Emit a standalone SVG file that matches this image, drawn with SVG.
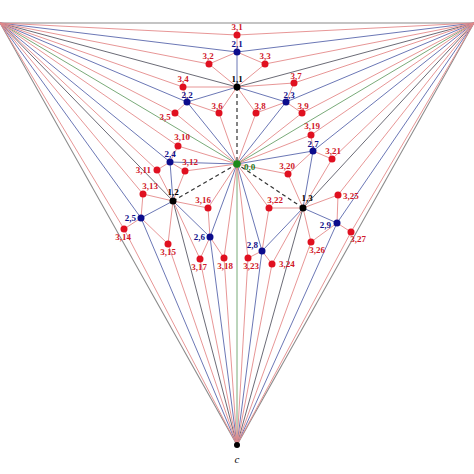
<svg xmlns="http://www.w3.org/2000/svg" width="474" height="474" viewBox="0 0 474 474">
<style>
line{stroke-width:0.9;fill:none}
.e{stroke:#8a8a8a;stroke-width:1.1}
.g{stroke:#6aa06a}
.k{stroke:#5a5a66}
.d{stroke:#333;stroke-width:1.2;stroke-dasharray:4,3}
.b{stroke:#5a68ad}
.r{stroke:#e48a8a}
.n0{fill:#1a8a1a}.n1{fill:#000}.n2{fill:#0c0c8c}.n3{fill:#e01020}
text{font-family:"Liberation Serif","DejaVu Serif",serif;font-weight:bold;font-size:9px;text-anchor:middle}
.t0{fill:#1a7a1a}.t1{fill:#000}.t2{fill:#10108a}.t3{fill:#d0182a}
</style>
<rect width="474" height="474" fill="#fff"/>
<g id="connectors">
<line class="e" x1="0" y1="23" x2="474" y2="23"/>
<line class="e" x1="0" y1="23" x2="237" y2="445"/>
<line class="e" x1="474" y1="23" x2="237" y2="445"/>
<!-- 0,0 -->
<line class="g" x1="0" y1="23" x2="237" y2="164"/>
<line class="g" x1="474" y1="23" x2="237" y2="164"/>
<line class="g" x1="237" y1="445" x2="237" y2="164"/>
<!-- level 1 -->
<line class="k" x1="0" y1="23" x2="237" y2="87"/>
<line class="k" x1="474" y1="23" x2="237" y2="87"/>
<line class="d" x1="237" y1="87" x2="237" y2="164"/>
<line class="k" x1="0" y1="23" x2="173" y2="201"/>
<line class="k" x1="237" y1="445" x2="173" y2="201"/>
<line class="d" x1="173" y1="201" x2="237" y2="164"/>
<line class="k" x1="474" y1="23" x2="303" y2="208"/>
<line class="k" x1="237" y1="445" x2="303" y2="208"/>
<line class="d" x1="303" y1="208" x2="237" y2="164"/>
<!-- level 2 -->
<line class="b" x1="0" y1="23" x2="237" y2="52"/>
<line class="b" x1="474" y1="23" x2="237" y2="52"/>
<line class="b" x1="237" y1="87" x2="237" y2="52"/>
<line class="b" x1="0" y1="23" x2="187" y2="102"/>
<line class="b" x1="237" y1="164" x2="187" y2="102"/>
<line class="b" x1="237" y1="87" x2="187" y2="102"/>
<line class="b" x1="474" y1="23" x2="286" y2="102"/>
<line class="b" x1="237" y1="164" x2="286" y2="102"/>
<line class="b" x1="237" y1="87" x2="286" y2="102"/>
<line class="b" x1="0" y1="23" x2="170" y2="162"/>
<line class="b" x1="237" y1="164" x2="170" y2="162"/>
<line class="b" x1="173" y1="201" x2="170" y2="162"/>
<line class="b" x1="0" y1="23" x2="141" y2="218"/>
<line class="b" x1="237" y1="445" x2="141" y2="218"/>
<line class="b" x1="173" y1="201" x2="141" y2="218"/>
<line class="b" x1="237" y1="445" x2="210" y2="237"/>
<line class="b" x1="237" y1="164" x2="210" y2="237"/>
<line class="b" x1="173" y1="201" x2="210" y2="237"/>
<line class="b" x1="474" y1="23" x2="313" y2="151"/>
<line class="b" x1="237" y1="164" x2="313" y2="151"/>
<line class="b" x1="303" y1="208" x2="313" y2="151"/>
<line class="b" x1="237" y1="445" x2="262" y2="251"/>
<line class="b" x1="237" y1="164" x2="262" y2="251"/>
<line class="b" x1="303" y1="208" x2="262" y2="251"/>
<line class="b" x1="474" y1="23" x2="337" y2="223"/>
<line class="b" x1="237" y1="445" x2="337" y2="223"/>
<line class="b" x1="303" y1="208" x2="337" y2="223"/>
<!-- level 3 -->
<line class="r" x1="0" y1="23" x2="237" y2="35"/>
<line class="r" x1="474" y1="23" x2="237" y2="35"/>
<line class="r" x1="237" y1="52" x2="237" y2="35"/>
<line class="r" x1="0" y1="23" x2="209" y2="64"/>
<line class="r" x1="237" y1="87" x2="209" y2="64"/>
<line class="r" x1="237" y1="52" x2="209" y2="64"/>
<line class="r" x1="474" y1="23" x2="265" y2="64"/>
<line class="r" x1="237" y1="87" x2="265" y2="64"/>
<line class="r" x1="237" y1="52" x2="265" y2="64"/>
<line class="r" x1="0" y1="23" x2="183" y2="87"/>
<line class="r" x1="237" y1="87" x2="183" y2="87"/>
<line class="r" x1="187" y1="102" x2="183" y2="87"/>
<line class="r" x1="0" y1="23" x2="175" y2="113"/>
<line class="r" x1="237" y1="164" x2="175" y2="113"/>
<line class="r" x1="187" y1="102" x2="175" y2="113"/>
<line class="r" x1="237" y1="164" x2="219" y2="113"/>
<line class="r" x1="237" y1="87" x2="219" y2="113"/>
<line class="r" x1="187" y1="102" x2="219" y2="113"/>
<line class="r" x1="474" y1="23" x2="294" y2="83"/>
<line class="r" x1="237" y1="87" x2="294" y2="83"/>
<line class="r" x1="286" y1="102" x2="294" y2="83"/>
<line class="r" x1="237" y1="164" x2="256" y2="113"/>
<line class="r" x1="237" y1="87" x2="256" y2="113"/>
<line class="r" x1="286" y1="102" x2="256" y2="113"/>
<line class="r" x1="474" y1="23" x2="302" y2="113"/>
<line class="r" x1="237" y1="164" x2="302" y2="113"/>
<line class="r" x1="286" y1="102" x2="302" y2="113"/>
<line class="r" x1="0" y1="23" x2="178" y2="146"/>
<line class="r" x1="237" y1="164" x2="178" y2="146"/>
<line class="r" x1="170" y1="162" x2="178" y2="146"/>
<line class="r" x1="0" y1="23" x2="157" y2="170"/>
<line class="r" x1="173" y1="201" x2="157" y2="170"/>
<line class="r" x1="170" y1="162" x2="157" y2="170"/>
<line class="r" x1="237" y1="164" x2="185" y2="171"/>
<line class="r" x1="173" y1="201" x2="185" y2="171"/>
<line class="r" x1="170" y1="162" x2="185" y2="171"/>
<line class="r" x1="0" y1="23" x2="143" y2="194"/>
<line class="r" x1="173" y1="201" x2="143" y2="194"/>
<line class="r" x1="141" y1="218" x2="143" y2="194"/>
<line class="r" x1="0" y1="23" x2="124" y2="229"/>
<line class="r" x1="237" y1="445" x2="124" y2="229"/>
<line class="r" x1="141" y1="218" x2="124" y2="229"/>
<line class="r" x1="237" y1="445" x2="168" y2="244"/>
<line class="r" x1="173" y1="201" x2="168" y2="244"/>
<line class="r" x1="141" y1="218" x2="168" y2="244"/>
<line class="r" x1="237" y1="164" x2="208" y2="208"/>
<line class="r" x1="173" y1="201" x2="208" y2="208"/>
<line class="r" x1="210" y1="237" x2="208" y2="208"/>
<line class="r" x1="237" y1="445" x2="200" y2="259"/>
<line class="r" x1="173" y1="201" x2="200" y2="259"/>
<line class="r" x1="210" y1="237" x2="200" y2="259"/>
<line class="r" x1="237" y1="445" x2="224" y2="258"/>
<line class="r" x1="237" y1="164" x2="224" y2="258"/>
<line class="r" x1="210" y1="237" x2="224" y2="258"/>
<line class="r" x1="474" y1="23" x2="311" y2="135"/>
<line class="r" x1="237" y1="164" x2="311" y2="135"/>
<line class="r" x1="313" y1="151" x2="311" y2="135"/>
<line class="r" x1="237" y1="164" x2="288" y2="174"/>
<line class="r" x1="303" y1="208" x2="288" y2="174"/>
<line class="r" x1="313" y1="151" x2="288" y2="174"/>
<line class="r" x1="474" y1="23" x2="332" y2="159"/>
<line class="r" x1="303" y1="208" x2="332" y2="159"/>
<line class="r" x1="313" y1="151" x2="332" y2="159"/>
<line class="r" x1="237" y1="164" x2="269" y2="208"/>
<line class="r" x1="303" y1="208" x2="269" y2="208"/>
<line class="r" x1="262" y1="251" x2="269" y2="208"/>
<line class="r" x1="237" y1="445" x2="248" y2="258"/>
<line class="r" x1="237" y1="164" x2="248" y2="258"/>
<line class="r" x1="262" y1="251" x2="248" y2="258"/>
<line class="r" x1="237" y1="445" x2="272" y2="264"/>
<line class="r" x1="303" y1="208" x2="272" y2="264"/>
<line class="r" x1="262" y1="251" x2="272" y2="264"/>
<line class="r" x1="474" y1="23" x2="338" y2="195"/>
<line class="r" x1="303" y1="208" x2="338" y2="195"/>
<line class="r" x1="337" y1="223" x2="338" y2="195"/>
<line class="r" x1="237" y1="445" x2="311" y2="242"/>
<line class="r" x1="303" y1="208" x2="311" y2="242"/>
<line class="r" x1="337" y1="223" x2="311" y2="242"/>
<line class="r" x1="474" y1="23" x2="351" y2="232"/>
<line class="r" x1="237" y1="445" x2="351" y2="232"/>
<line class="r" x1="337" y1="223" x2="351" y2="232"/>
</g>
<g id="c"><circle class="n1" cx="237" cy="445" r="3"/><text x="237" y="463" style="font-style:italic;font-weight:normal;font-size:11px">c</text></g>
<g id="n0-0"><circle class="n0" cx="237" cy="164" r="3.8"/><text class="t0" x="244" y="170" style="text-anchor:start">0,0</text></g>
<g id="n1-1"><circle class="n1" cx="237" cy="87" r="3.5"/><text class="t1" x="237" y="82">1,1</text></g>
<g id="n1-2"><circle class="n1" cx="173" cy="201" r="3.5"/><text class="t1" x="173" y="195">1,2</text></g>
<g id="n1-3"><circle class="n1" cx="303" cy="208" r="3.5"/><text class="t1" x="307" y="201">1,3</text></g>
<g id="n2-1"><circle class="n2" cx="237" cy="52" r="3.5"/><text class="t2" x="237" y="47">2,1</text></g>
<g id="n2-2"><circle class="n2" cx="187" cy="102" r="3.5"/><text class="t2" x="187" y="98">2,2</text></g>
<g id="n2-3"><circle class="n2" cx="286" cy="102" r="3.5"/><text class="t2" x="289" y="98">2,3</text></g>
<g id="n2-4"><circle class="n2" cx="170" cy="162" r="3.5"/><text class="t2" x="170" y="157">2,4</text></g>
<g id="n2-5"><circle class="n2" cx="141" cy="218" r="3.5"/><text class="t2" x="136" y="221" style="text-anchor:end">2,5</text></g>
<g id="n2-6"><circle class="n2" cx="210" cy="237" r="3.5"/><text class="t2" x="205" y="240" style="text-anchor:end">2,6</text></g>
<g id="n2-7"><circle class="n2" cx="313" cy="151" r="3.5"/><text class="t2" x="313" y="147">2,7</text></g>
<g id="n2-8"><circle class="n2" cx="262" cy="251" r="3.5"/><text class="t2" x="258" y="248" style="text-anchor:end">2,8</text></g>
<g id="n2-9"><circle class="n2" cx="337" cy="223" r="3.5"/><text class="t2" x="331" y="228" style="text-anchor:end">2,9</text></g>
<g id="n3-1"><circle class="n3" cx="237" cy="35" r="3.5"/><text class="t3" x="237" y="30">3,1</text></g>
<g id="n3-2"><circle class="n3" cx="209" cy="64" r="3.5"/><text class="t3" x="208" y="59">3,2</text></g>
<g id="n3-3"><circle class="n3" cx="265" cy="64" r="3.5"/><text class="t3" x="265" y="59">3,3</text></g>
<g id="n3-4"><circle class="n3" cx="183" cy="87" r="3.5"/><text class="t3" x="183" y="82">3,4</text></g>
<g id="n3-5"><circle class="n3" cx="175" cy="113" r="3.5"/><text class="t3" x="165" y="120">3,5</text></g>
<g id="n3-6"><circle class="n3" cx="219" cy="113" r="3.5"/><text class="t3" x="217" y="109">3,6</text></g>
<g id="n3-7"><circle class="n3" cx="294" cy="83" r="3.5"/><text class="t3" x="296" y="79">3,7</text></g>
<g id="n3-8"><circle class="n3" cx="256" cy="113" r="3.5"/><text class="t3" x="260" y="109">3,8</text></g>
<g id="n3-9"><circle class="n3" cx="302" cy="113" r="3.5"/><text class="t3" x="303" y="109">3,9</text></g>
<g id="n3-10"><circle class="n3" cx="178" cy="146" r="3.5"/><text class="t3" x="182" y="140">3,10</text></g>
<g id="n3-11"><circle class="n3" cx="157" cy="170" r="3.5"/><text class="t3" x="151" y="173" style="text-anchor:end">3,11</text></g>
<g id="n3-12"><circle class="n3" cx="185" cy="171" r="3.5"/><text class="t3" x="190" y="165">3,12</text></g>
<g id="n3-13"><circle class="n3" cx="143" cy="194" r="3.5"/><text class="t3" x="150" y="189">3,13</text></g>
<g id="n3-14"><circle class="n3" cx="124" cy="229" r="3.5"/><text class="t3" x="123" y="240">3,14</text></g>
<g id="n3-15"><circle class="n3" cx="168" cy="244" r="3.5"/><text class="t3" x="168" y="255">3,15</text></g>
<g id="n3-16"><circle class="n3" cx="208" cy="208" r="3.5"/><text class="t3" x="203" y="203">3,16</text></g>
<g id="n3-17"><circle class="n3" cx="200" cy="259" r="3.5"/><text class="t3" x="199" y="270">3,17</text></g>
<g id="n3-18"><circle class="n3" cx="224" cy="258" r="3.5"/><text class="t3" x="225" y="269">3,18</text></g>
<g id="n3-19"><circle class="n3" cx="311" cy="135" r="3.5"/><text class="t3" x="312" y="129">3,19</text></g>
<g id="n3-20"><circle class="n3" cx="288" cy="174" r="3.5"/><text class="t3" x="287" y="169">3,20</text></g>
<g id="n3-21"><circle class="n3" cx="332" cy="159" r="3.5"/><text class="t3" x="333" y="154">3,21</text></g>
<g id="n3-22"><circle class="n3" cx="269" cy="208" r="3.5"/><text class="t3" x="275" y="203">3,22</text></g>
<g id="n3-23"><circle class="n3" cx="248" cy="258" r="3.5"/><text class="t3" x="251" y="269">3,23</text></g>
<g id="n3-24"><circle class="n3" cx="272" cy="264" r="3.5"/><text class="t3" x="279" y="267" style="text-anchor:start">3,24</text></g>
<g id="n3-25"><circle class="n3" cx="338" cy="195" r="3.5"/><text class="t3" x="343" y="199" style="text-anchor:start">3,25</text></g>
<g id="n3-26"><circle class="n3" cx="311" cy="242" r="3.5"/><text class="t3" x="317" y="253">3,26</text></g>
<g id="n3-27"><circle class="n3" cx="351" cy="232" r="3.5"/><text class="t3" x="358" y="242">3,27</text></g>
</svg>
